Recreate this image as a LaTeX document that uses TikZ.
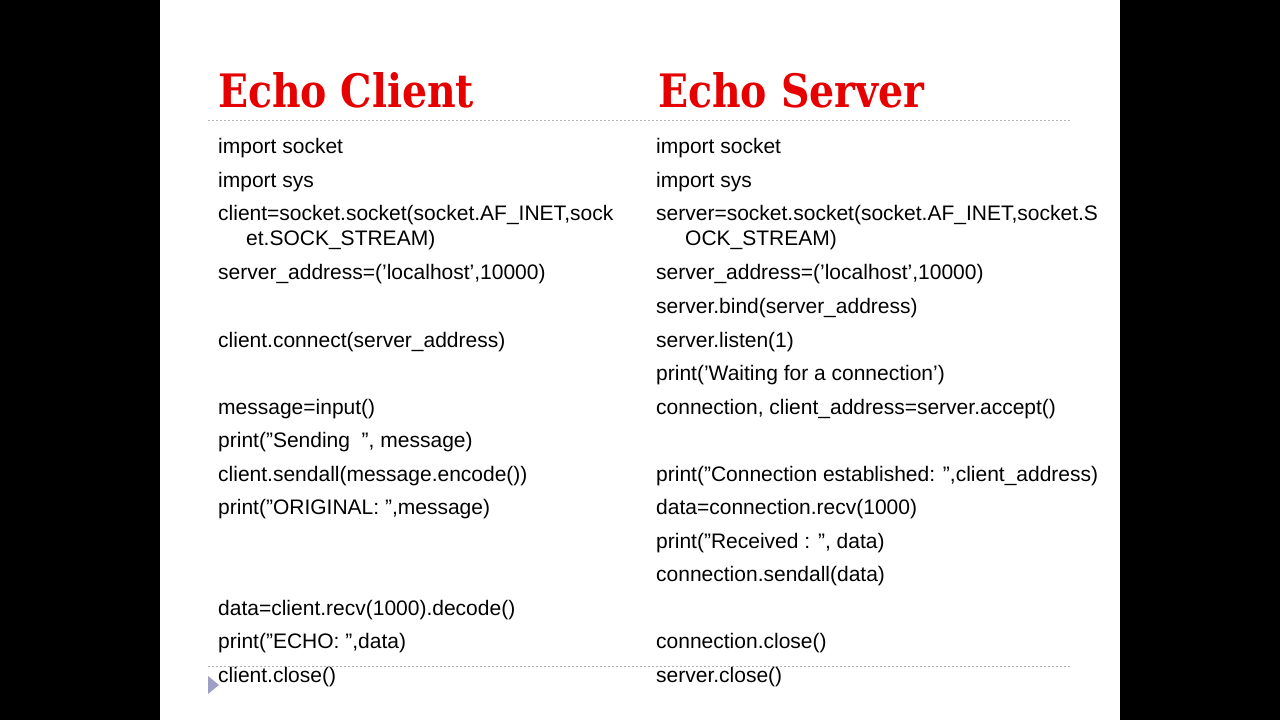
\documentclass[tikz,border=0pt]{standalone}
\usepackage{fontspec}
\setmainfont{Liberation Sans}
\newfontfamily\titlefont{DejaVu Serif}
\definecolor{titlered}{RGB}{230,0,0}
\begin{document}
\begin{tikzpicture}[x=1pt,y=1pt,
  code/.style={anchor=base west,inner sep=0pt,font=\fontsize{21}{24}\selectfont},
  ttl/.style={anchor=base west,inner sep=0pt,text=titlered,font=\titlefont\bfseries},
  rule/.style={gray!60,dash pattern=on 2pt off 2pt,line width=0.6pt}]
\fill[black] (0,0) rectangle (1280,-720);
\fill[white] (160,0) rectangle (1120,-720);
\useasboundingbox (0,0) rectangle (1280,-720);
\node[ttl] (t1) at (218,-107) {\resizebox{256pt}{35pt}{Echo Client}};
\node[ttl] (t2) at (658,-107) {\resizebox{266pt}{35pt}{Echo Server}};
\draw[rule] (208,-120) -- (1070,-120);
\draw[rule] (208,-666) -- (1070,-666);
\fill[blue!25!gray!60] (208,-676) -- (219,-685) -- (208,-694) -- cycle;
% client
\foreach \t/\x/\y in {import socket/218/146, import sys/218/180,
  client=socket.socket(socket.AF\_INET{,}sock/218/213, et.SOCK\_STREAM)/246/238,
  server\_address=('localhost'{,}10000)/218/272, client.connect(server\_address)/218/340,
  message=input()/218/407, print("Sending~ "{,} message)/218/440,
  client.sendall(message.encode())/218/474, print("ORIGINAL: "{,}message)/218/507,
  data=client.recv(1000).decode()/218/608, print("ECHO: "{,}data)/218/641,
  client.close()/218/675,
  import socket/656/146, import sys/656/180,
  server=socket.socket(socket.AF\_INET{,}socket.S/656/213, OCK\_STREAM)/685/238,
  server\_address=('localhost'{,}10000)/656/272, server.bind(server\_address)/656/306,
  server.listen(1)/656/340, print('Waiting for a connection')/656/373,
  connection{,} client\_address=server.accept()/656/407,
  print("Connection established: "{,}client\_address)/656/474,
  data=connection.recv(1000)/656/507, print("Received : "{,} data)/656/541,
  connection.sendall(data)/656/574, connection.close()/656/641, server.close()/656/675}
  \node[code] at (\x,-\y-7) {\t};
\end{tikzpicture}
\end{document}
